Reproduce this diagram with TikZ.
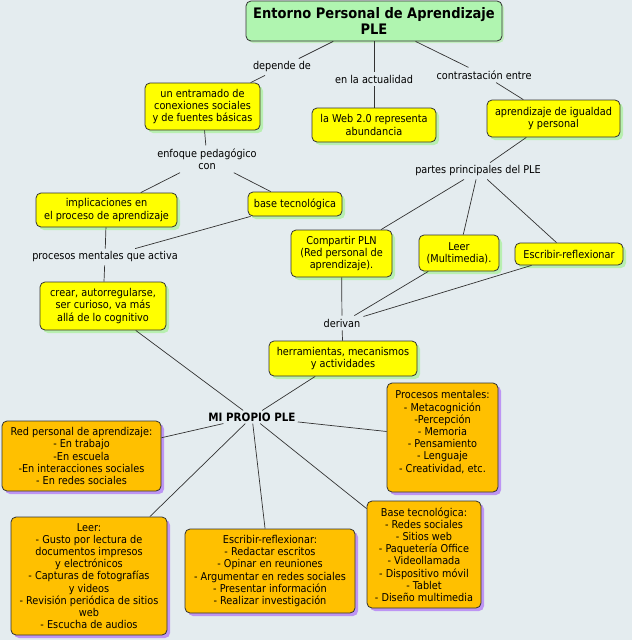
\documentclass[tikz,border=0pt]{standalone}
\usepackage{fontspec}
\setmainfont{DejaVu Sans Condensed}
\usetikzlibrary{shadows}
\definecolor{bgc}{RGB}{228,236,239}
\definecolor{yel}{RGB}{255,255,0}
\definecolor{org}{RGB}{255,192,0}
\definecolor{grn}{RGB}{176,245,176}
\definecolor{shg}{RGB}{180,240,170}
\definecolor{shp}{RGB}{185,140,245}
\definecolor{edge}{RGB}{50,50,50}
\tikzset{
  base box/.style={draw=edge, line width=0.8pt, rounded corners=5pt, align=center,
    inner sep=1pt, font=\fontsize{10.8}{12.2}\selectfont, text=black},
  ybox/.style={base box, fill=yel, drop shadow={shadow xshift=3pt, shadow yshift=-3pt, fill=shg, opacity=0.9}},
  obox/.style={base box, fill=org, drop shadow={shadow xshift=3pt, shadow yshift=-3pt, fill=shp, opacity=0.9}},
  tbox/.style={base box, fill=grn, font=\fontsize{14.5}{16}\selectfont\bfseries, drop shadow={shadow xshift=2pt, shadow yshift=-2pt, fill=shg, opacity=0.7}},
  lbl/.style={align=center, inner sep=3pt, font=\fontsize{10.8}{12.2}\selectfont, text=black},
  conn/.style={draw=edge, line width=0.7pt}
}
\begin{document}
\begin{tikzpicture}[x=1pt,y=-1pt]
\fill[bgc] (0,0) rectangle (632,640);
\useasboundingbox (0,0) rectangle (632,640);

\node[tbox, minimum width=256pt, minimum height=40pt] (title) at (374,21) {Entorno Personal de Aprendizaje\\PLE};

\node[ybox, minimum width=115pt, minimum height=47pt] (ent) at (202.5,106.5) {un entramado de\\conexiones sociales\\y de fuentes básicas};
\node[ybox, minimum width=124pt, minimum height=34pt] (web) at (374,125) {la Web 2.0 representa\\abundancia};
\node[ybox, minimum width=133pt, minimum height=37pt] (apr) at (553.5,118.5) {aprendizaje de igualdad\\y personal};
\node[ybox, minimum width=141pt, minimum height=34pt] (imp) at (106.5,210) {implicaciones en\\el proceso de aprendizaje};
\node[ybox, minimum width=94pt, minimum height=24pt] (btec) at (295,204) {base tecnológica};
\node[ybox, minimum width=101pt, minimum height=47pt] (comp) at (341.5,253.5) {Compartir PLN\\(Red personal de\\aprendizaje).};
\node[ybox, minimum width=80pt, minimum height=36pt] (leer1) at (459,253) {Leer\\(Multimedia).};
\node[ybox, minimum width=108pt, minimum height=22pt] (esc1) at (569,254) {Escribir-reflexionar};
\node[ybox, minimum width=126pt, minimum height=48pt] (crear) at (103,306) {crear, autorregularse,\\ser curioso, va más\\allá de lo cognitivo};
\node[ybox, minimum width=148pt, minimum height=35pt] (herr) at (343,358.5) {herramientas, mecanismos\\y actividades};

\node[obox, minimum width=159pt, minimum height=70pt] (red) at (81.5,456) {Red personal de aprendizaje:\\- En trabajo\\-En escuela\\-En interacciones sociales\\- En redes sociales};
\node[obox, minimum width=111pt, minimum height=109pt] (proc) at (442.5,437.5) {Procesos mentales:\\- Metacognición\\-Percepción\\- Memoria\\- Pensamiento\\- Lenguaje\\- Creatividad, etc.\\\mbox{}};
\node[obox, minimum width=156pt, minimum height=118pt] (leer2) at (89,576) {Leer:\\- Gusto por lectura de\\documentos impresos\\y electrónicos\\- Capturas de fotografías\\y videos\\- Revisión periódica de sitios\\web\\- Escucha de audios};
\node[obox, minimum width=170pt, minimum height=84pt] (esc2) at (270,571) {Escribir-reflexionar:\\- Redactar escritos\\- Opinar en reuniones\\- Argumentar en redes sociales\\- Presentar información\\- Realizar investigación};
\node[obox, minimum width=114pt, minimum height=107pt] (btec2) at (424,554.5) {Base tecnológica:\\- Redes sociales\\- Sitios web\\- Paquetería Office\\- Videollamada\\- Dispositivo móvil\\- Tablet\\- Diseño multimedia};

\node[lbl] (dep) at (282,67) {depende de};
\node[lbl] (act) at (374,79) {en la actualidad};
\node[lbl] (con) at (484,75) {contrastación entre};
\node[lbl] (enf) at (207,159) {enfoque pedagógico\\con};
\node[lbl] (par) at (478,171) {partes principales del PLE};
\node[lbl] (pro) at (105,257) {procesos mentales que activa};
\node[lbl] (der) at (342,323) {derivan};
\node[lbl, inner sep=2pt, font=\fontsize{11.5}{12}\selectfont\bfseries] (mi) at (252,417) {MI PROPIO PLE};

\draw[conn] (title) -- (dep); \draw[conn] (dep) -- (ent);
\draw[conn] (title) -- (act); \draw[conn] (act) -- (web);
\draw[conn] (title) -- (con); \draw[conn] (con) -- (apr);
\draw[conn] (ent) -- (enf);
\draw[conn] (enf) -- (imp); \draw[conn] (enf) -- (btec);
\draw[conn] (apr) -- (par);
\draw[conn] (par) -- (comp); \draw[conn] (par) -- (leer1); \draw[conn] (par) -- (esc1);
\draw[conn] (imp) -- (pro); \draw[conn] (btec) -- (pro); \draw[conn] (pro) -- (crear);
\draw[conn] (comp) -- (der); \draw[conn] (leer1) -- (der); \draw[conn] (esc1) -- (der);
\draw[conn] (der) -- (herr);
\draw[conn] (crear) -- (mi); \draw[conn] (herr) -- (mi);
\draw[conn] (mi) -- (red); \draw[conn] (mi) -- (proc); \draw[conn] (mi) -- (leer2);
\draw[conn] (mi) -- (esc2); \draw[conn] (mi) -- (btec2);
\end{tikzpicture}
\end{document}
